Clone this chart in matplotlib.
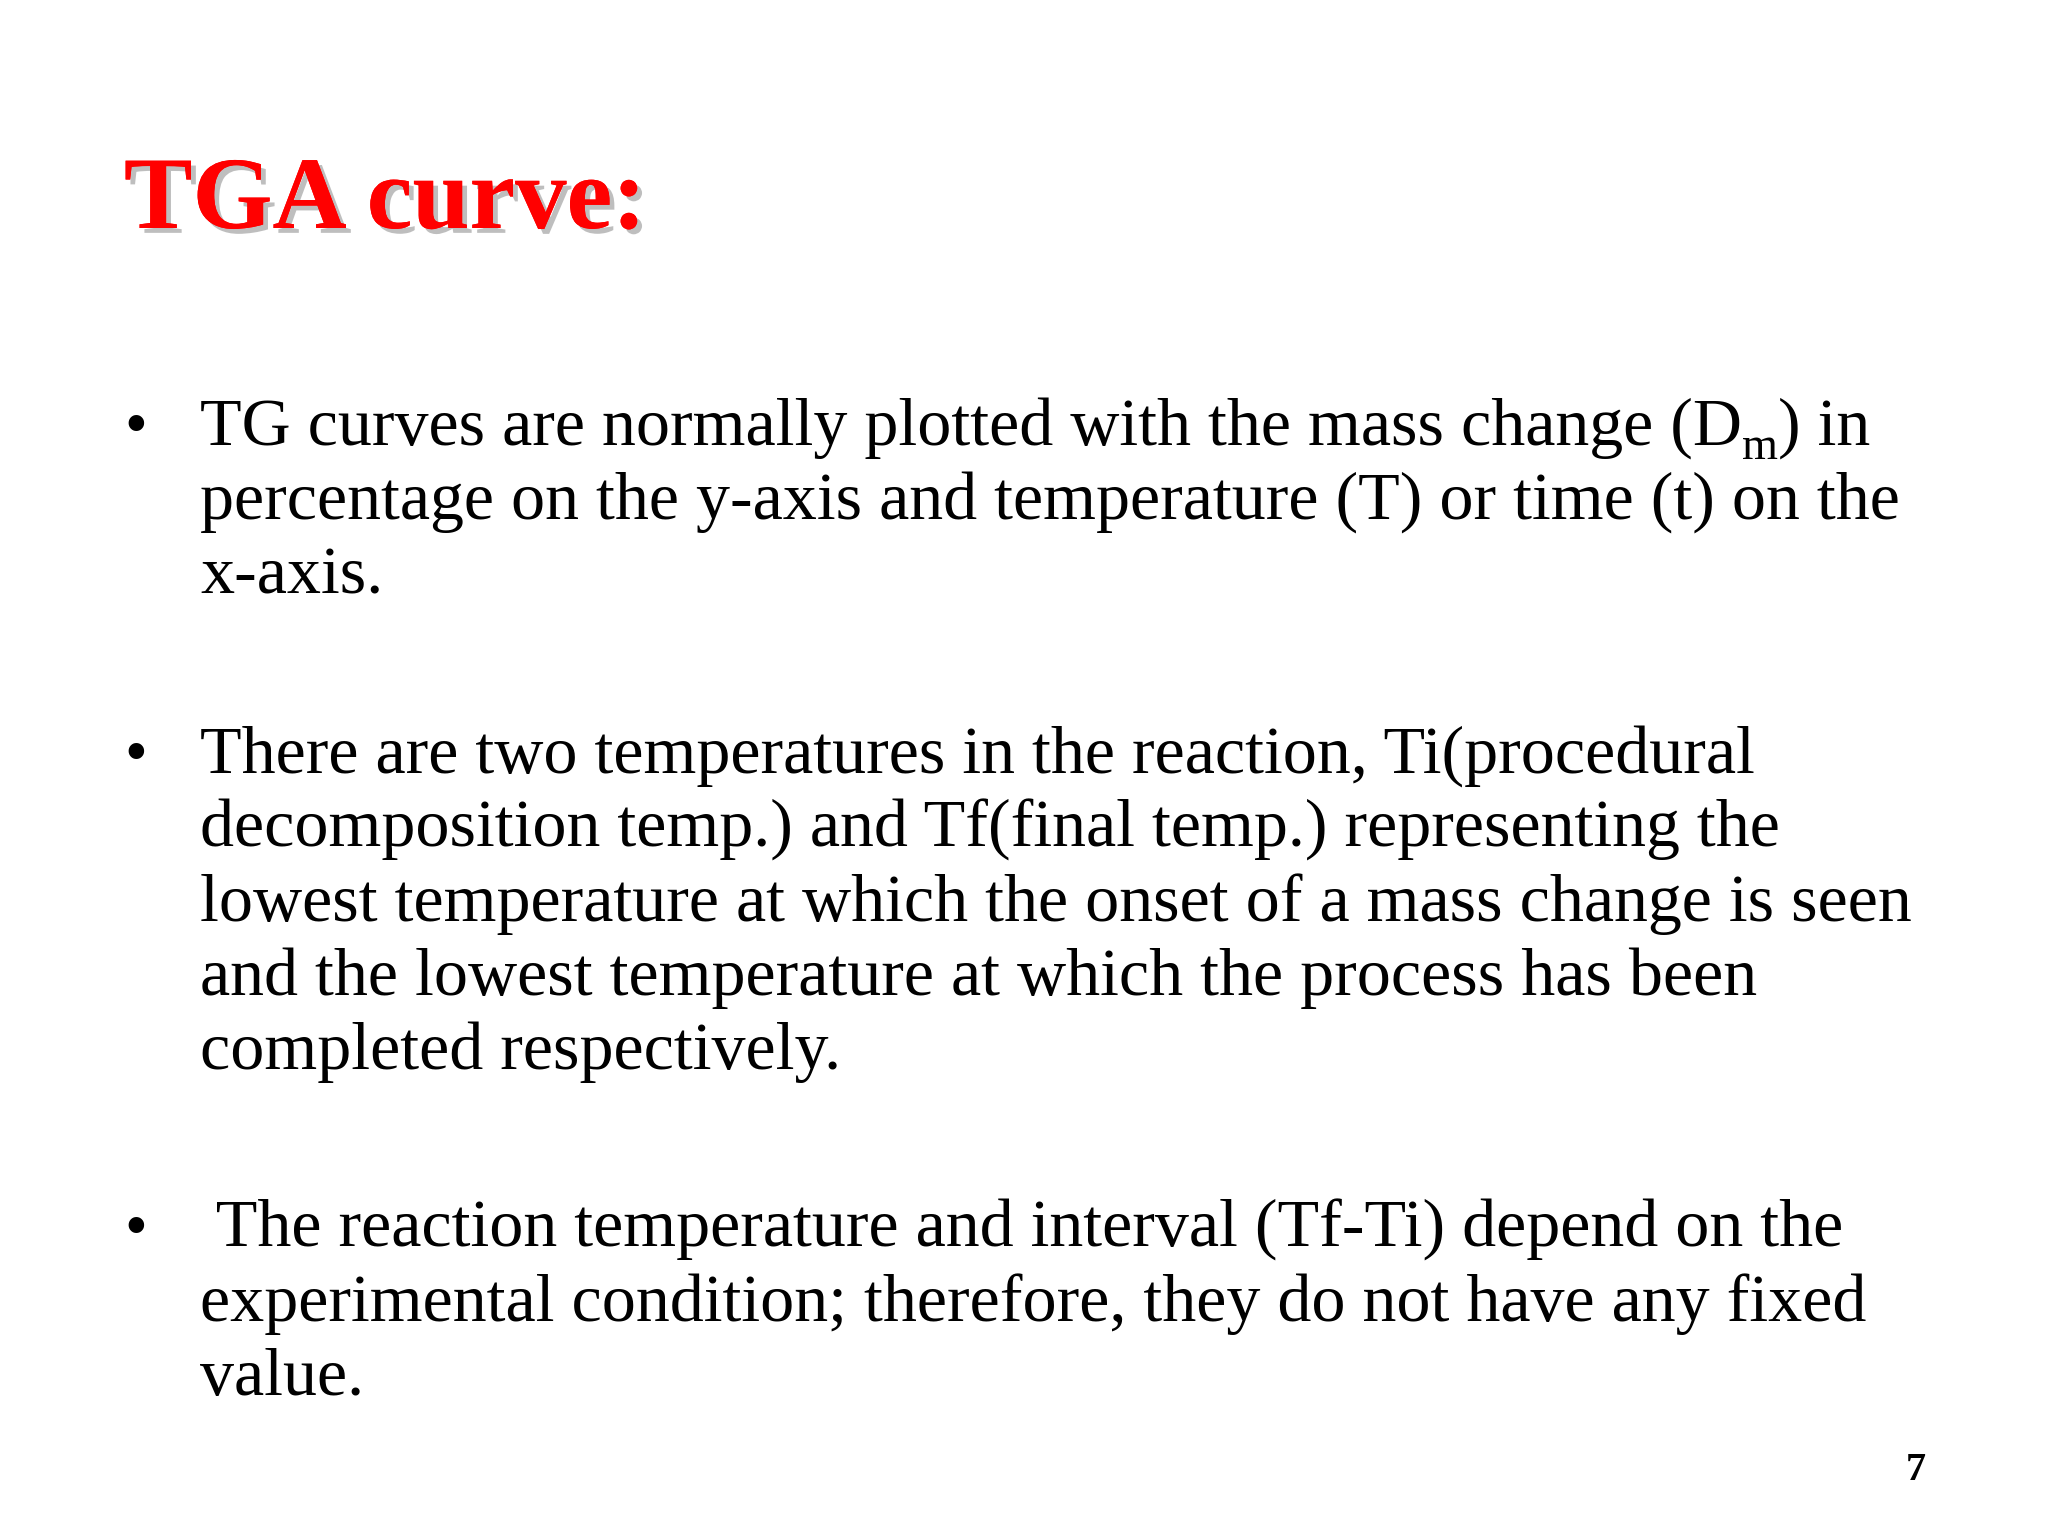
import matplotlib
matplotlib.use("Agg")
import matplotlib.pyplot as plt
import matplotlib.patheffects as pe

plt.rcParams['font.family'] = ['Liberation Serif', 'DejaVu Serif']

# slide content
title = "TGA curve:"
# first line has a subscript, kept as (text, is_subscript) pieces
first_line_parts = [("TG curves are normally plotted with the mass change (D", False),
                    ("m", True),
                    (") in", False)]
bullets = [
    [None,
     "percentage on the y-axis and temperature (T) or time (t) on the",
     "x-axis."],
    ["There are two temperatures in the reaction, Ti(procedural",
     "decomposition temp.) and Tf(final temp.) representing the",
     "lowest temperature at which the onset of a mass change is seen",
     "and the lowest temperature at which the process has been",
     "completed respectively."],
    [" The reaction temperature and interval (Tf-Ti) depend on the",
     "experimental condition; therefore, they do not have any fixed",
     "value."],
]
page_no = "7"

# layout (pixels from top-left)
first_baselines = [445, 773, 1247]
line_step = 74
bullet_x = 124
text_x = 200
body_size = 49

fig = plt.figure(figsize=(20.48, 15.36), dpi=100)
fig.patch.set_facecolor('white')
ax = fig.add_axes([0, 0, 1, 1])
ax.set_xlim(0, 2048)
ax.set_ylim(1536, 0)
ax.axis('off')
renderer = fig.canvas.get_renderer()

ax.text(124, 228, title, fontsize=74, fontweight='bold', color='#ff0000',
        va='baseline', ha='left',
        path_effects=[pe.withSimplePatchShadow(offset=(3.5, -3.5), shadow_rgbFace='#7f7f7f', alpha=0.5),
                      pe.Normal()])


def draw_parts(x, y, parts):
    # place pieces one after another, measuring each in pixels
    for s, sub in parts:
        size = body_size * 0.68 if sub else body_size
        dy = body_size * 1.39 * 0.2 if sub else 0
        t = ax.text(x, y + dy, s, fontsize=size, color='black', va='baseline', ha='left')
        x += t.get_window_extent(renderer).width


for lines, y0 in zip(bullets, first_baselines):
    ax.text(bullet_x, y0, u"\u2022", fontsize=47, color='black', va='baseline', ha='left')
    for i, line in enumerate(lines):
        if line is None:
            draw_parts(text_x, y0, first_line_parts)
            continue
        ax.text(text_x, y0 + i * line_step, line, fontsize=body_size, color='black',
                va='baseline', ha='left')

ax.text(1906, 1480, page_no, fontsize=29, fontweight='bold', color='black',
        va='baseline', ha='left')

fig.savefig('out.png', dpi=100, facecolor='white')
